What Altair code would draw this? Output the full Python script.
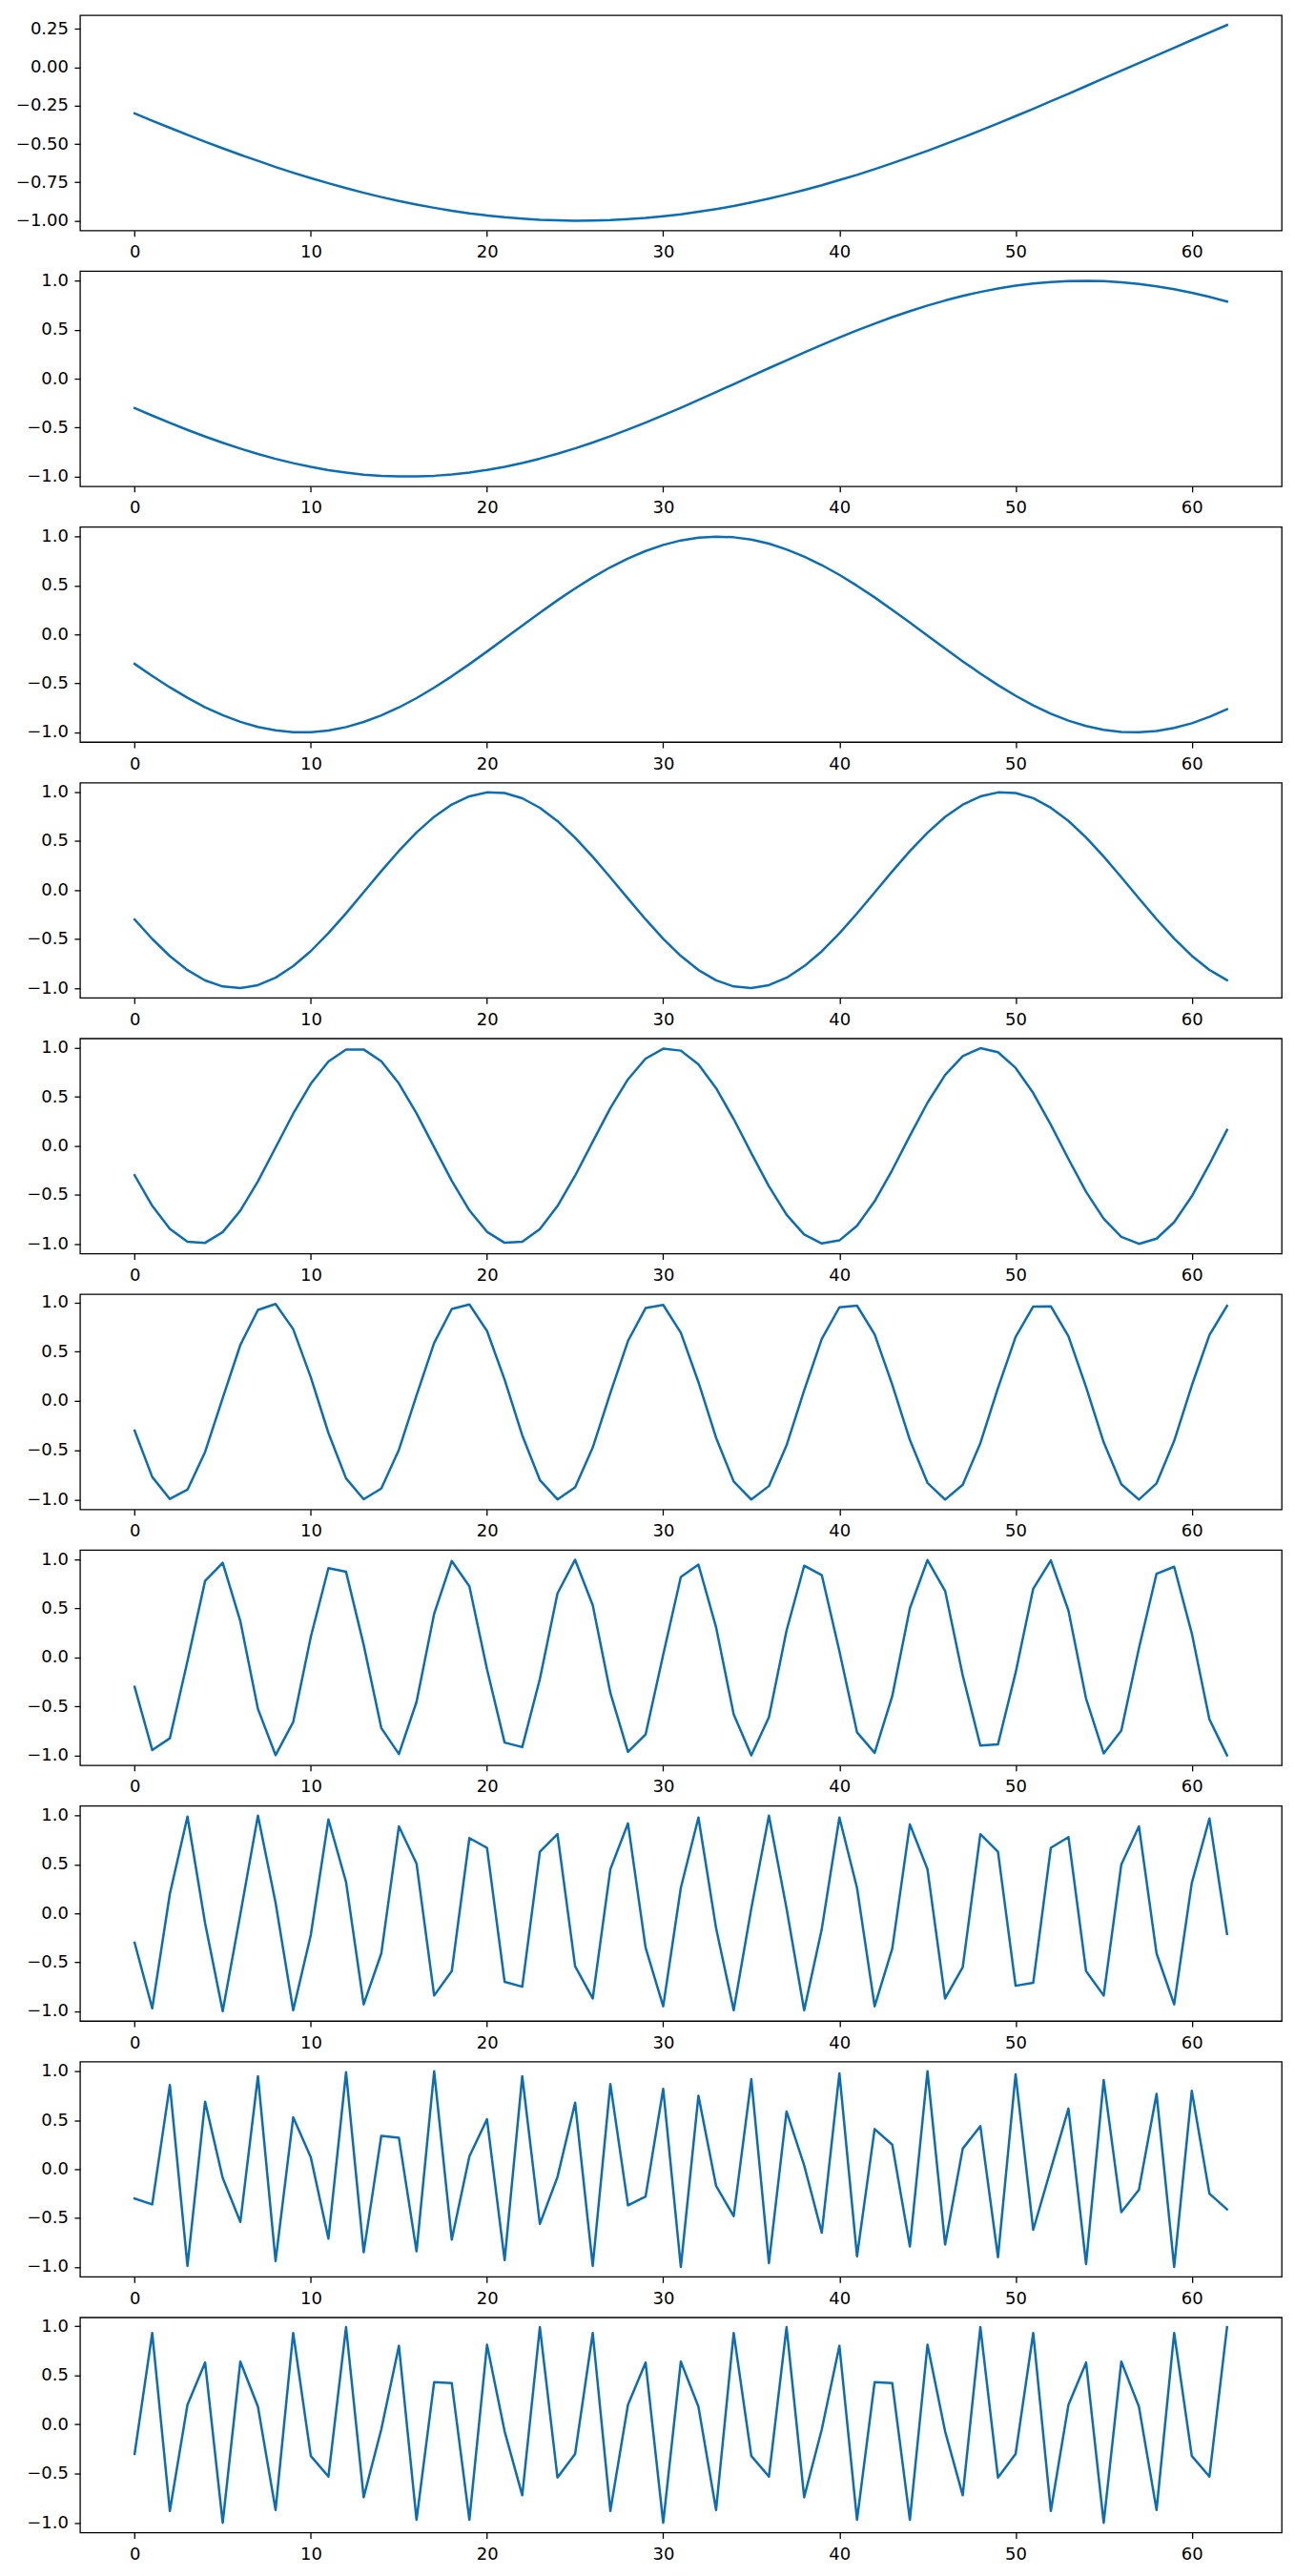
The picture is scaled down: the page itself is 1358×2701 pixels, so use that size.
import altair as alt
import pandas as pd

x_vals = list(range(63))
x_ticks = [0, 10, 20, 30, 40, 50, 60]

s1 = [-0.300, -0.348, -0.394, -0.440, -0.485, -0.528, -0.570, -0.610, -0.650, -0.687,
      -0.722, -0.756, -0.788, -0.818, -0.846, -0.872, -0.895, -0.916, -0.935, -0.952,
      -0.966, -0.978, -0.987, -0.994, -0.998, -1.000, -0.999, -0.996, -0.990, -0.982,
      -0.971, -0.958, -0.942, -0.924, -0.904, -0.881, -0.856, -0.829, -0.800, -0.769,
      -0.735, -0.701, -0.664, -0.625, -0.585, -0.544, -0.501, -0.457, -0.412, -0.365,
      -0.318, -0.270, -0.221, -0.172, -0.122, -0.072, -0.022, 0.028, 0.078, 0.128,
      0.178, 0.227, 0.276]
s2 = [-0.300, -0.377, -0.451, -0.523, -0.591, -0.655, -0.714, -0.769, -0.819, -0.863,
      -0.901, -0.934, -0.960, -0.980, -0.993, -0.999, -0.999, -0.992, -0.979, -0.959,
      -0.932, -0.900, -0.861, -0.817, -0.767, -0.712, -0.652, -0.588, -0.520, -0.448,
      -0.374, -0.297, -0.218, -0.137, -0.056, 0.026, 0.108, 0.188, 0.268, 0.346,
      0.421, 0.494, 0.563, 0.629, 0.690, 0.747, 0.799, 0.846, 0.886, 0.921,
      0.950, 0.972, 0.988, 0.998, 1.000, 0.996, 0.985, 0.968, 0.944, 0.914,
      0.878, 0.836, 0.788]
s3 = [-0.300, -0.424, -0.540, -0.647, -0.743, -0.825, -0.893, -0.945, -0.980, -0.998,
      -0.998, -0.981, -0.946, -0.894, -0.827, -0.745, -0.650, -0.543, -0.427, -0.303,
      -0.174, -0.042, 0.091, 0.223, 0.350, 0.471, 0.584, 0.687, 0.777, 0.853,
      0.915, 0.961, 0.989, 1.000, 0.993, 0.969, 0.928, 0.869, 0.796, 0.709,
      0.609, 0.498, 0.379, 0.252, 0.122, -0.011, -0.144, -0.274, -0.399, -0.517,
      -0.626, -0.724, -0.809, -0.880, -0.935, -0.974, -0.996, -0.999, -0.986, -0.954,
      -0.907, -0.842, -0.763]
s4 = [-0.300, -0.498, -0.673, -0.816, -0.921, -0.983, -0.999, -0.969, -0.893, -0.775,
      -0.622, -0.439, -0.236, -0.021, 0.194, 0.400, 0.588, 0.748, 0.873, 0.957,
      0.997, 0.990, 0.937, 0.840, 0.704, 0.535, 0.340, 0.130, -0.086, -0.298,
      -0.496, -0.671, -0.815, -0.920, -0.983, -0.999, -0.969, -0.894, -0.776, -0.624,
      -0.441, -0.238, -0.023, 0.192, 0.398, 0.586, 0.747, 0.872, 0.956, 0.997,
      0.990, 0.938, 0.841, 0.706, 0.537, 0.342, 0.132, -0.084, -0.296, -0.494,
      -0.670, -0.814, -0.919]
s5 = [-0.300, -0.611, -0.847, -0.978, -0.990, -0.880, -0.661, -0.361, -0.017, 0.329,
      0.635, 0.862, 0.984, 0.985, 0.865, 0.638, 0.333, -0.013, -0.357, -0.658,
      -0.877, -0.989, -0.979, -0.849, -0.614, -0.304, 0.043, 0.386, 0.680, 0.891,
      0.993, 0.973, 0.833, 0.590, 0.275, -0.074, -0.413, -0.702, -0.905, -0.996,
      -0.965, -0.815, -0.565, -0.246, 0.104, 0.441, 0.724, 0.917, 0.998, 0.957,
      0.797, 0.540, 0.216, -0.134, -0.468, -0.744, -0.929, -1.000, -0.947, -0.779,
      -0.514, -0.187, 0.164]
s6 = [-0.300, -0.770, -0.993, -0.899, -0.517, 0.031, 0.568, 0.924, 0.984, 0.729,
      0.241, -0.324, -0.785, -0.996, -0.887, -0.495, 0.056, 0.589, 0.933, 0.979,
      0.711, 0.216, -0.348, -0.801, -0.998, -0.875, -0.472, 0.081, 0.609, 0.942,
      0.974, 0.693, 0.191, -0.372, -0.816, -0.999, -0.862, -0.450, 0.107, 0.629,
      0.950, 0.967, 0.675, 0.166, -0.395, -0.830, -1.000, -0.849, -0.427, 0.132,
      0.649, 0.958, 0.961, 0.656, 0.141, -0.419, -0.844, -1.000, -0.835, -0.404,
      0.157, 0.668, 0.965]
s7 = [-0.300, -0.945, -0.825, -0.037, 0.781, 0.967, 0.370, -0.526, -0.997, -0.660,
      0.211, 0.911, 0.874, 0.129, -0.720, -0.986, -0.454, 0.446, 0.985, 0.727,
      -0.120, -0.869, -0.915, -0.220, 0.653, 0.997, 0.534, -0.361, -0.964, -0.787,
      0.028, 0.821, 0.948, 0.309, -0.580, -1.000, -0.610, 0.274, 0.936, 0.840,
      0.064, -0.764, -0.974, -0.395, 0.503, 0.994, 0.680, -0.184, -0.899, -0.886,
      -0.156, 0.701, 0.990, 0.478, -0.421, -0.979, -0.745, 0.093, 0.855, 0.926,
      0.246, -0.632, -0.999]
s8 = [-0.30, -0.97, 0.20, 0.99, -0.10, -1.00, -0.01, 1.00, 0.11, -0.99,
      -0.22, 0.96, 0.32, -0.93, -0.41, 0.89, 0.51, -0.84, -0.59, 0.77,
      0.67, -0.70, -0.75, 0.63, 0.81, -0.54, -0.87, 0.45, 0.92, -0.35,
      -0.95, 0.26, 0.98, -0.15, -0.99, 0.05, 1.00, 0.05, -0.99, -0.16,
      0.98, 0.26, -0.95, -0.36, 0.91, 0.45, -0.87, -0.55, 0.81, 0.63,
      -0.74, -0.71, 0.67, 0.78, -0.59, -0.84, 0.50, 0.89, -0.41, -0.93,
      0.31, 0.97, -0.21]
s9 = [-0.30, -0.36, 0.86, -0.99, 0.69, -0.09, -0.54, 0.95, -0.94, 0.53,
      0.12, -0.71, 0.99, -0.85, 0.34, 0.32, -0.84, 1.00, -0.72, 0.13,
      0.51, -0.93, 0.95, -0.56, -0.08, 0.68, -0.99, 0.87, -0.37, -0.28,
      0.82, -1.00, 0.75, -0.17, -0.48, 0.92, -0.96, 0.59, 0.04, -0.65,
      0.98, -0.89, 0.41, 0.25, -0.79, 1.00, -0.77, 0.21, 0.44, -0.90,
      0.97, -0.62, 0.00, 0.62, -0.97, 0.91, -0.44, -0.21, 0.77, -1.00,
      0.80, -0.25, -0.41]
s10 = [-0.30, 0.93, -0.88, 0.20, 0.63, -1.00, 0.64, 0.18, -0.87, 0.93,
       -0.32, -0.53, 0.99, -0.74, -0.05, 0.80, -0.97, 0.43, 0.42, -0.97,
       0.81, -0.07, -0.72, 0.99, -0.54, -0.30, 0.93, -0.88, 0.20, 0.63,
       -1.00, 0.64, 0.18, -0.87, 0.93, -0.32, -0.53, 0.99, -0.74, -0.05,
       0.80, -0.97, 0.43, 0.42, -0.97, 0.81, -0.07, -0.72, 0.99, -0.54,
       -0.30, 0.93, -0.88, 0.20, 0.63, -1.00, 0.64, 0.18, -0.87, 0.93,
       -0.32, -0.53, 0.99]

series = [s1, s2, s3, s4, s5, s6, s7, s8, s9, s10]
y_ticks_first = [-1.0, -0.75, -0.5, -0.25, 0.0, 0.25]
y_ticks_rest = [-1.0, -0.5, 0.0, 0.5, 1.0]

LINE = "#0b6db3"
FONT = "DejaVu Sans"

panels = []
for i, s in enumerate(series):
    df = pd.DataFrame({"x": x_vals, "y": s})
    lo, hi = min(s), max(s)
    m = 0.05 * (hi - lo)
    if i == 0:
        ticks, fmt = y_ticks_first, ".2f"
    else:
        ticks, fmt = y_ticks_rest, ".1f"
    ch = alt.Chart(df).mark_line(
        color=LINE, strokeWidth=2.5, strokeJoin="round", strokeCap="square"
    ).encode(
        x=alt.X("x:Q",
                scale=alt.Scale(domain=[-3.1, 65.1], nice=False, zero=False),
                axis=alt.Axis(values=x_ticks, format="d", title=None,
                              labelPadding=8, tickSize=6)),
        y=alt.Y("y:Q",
                scale=alt.Scale(domain=[lo - m, hi + m], nice=False, zero=False),
                axis=alt.Axis(values=ticks, format=fmt, title=None,
                              labelPadding=6.5, tickSize=6,
                              minExtent=70, maxExtent=70)),
    ).properties(width=1262, height=226)
    panels.append(ch)

chart = alt.vconcat(*panels, spacing=42.6, bounds="flush").resolve_scale(
    x="independent", y="independent"
).configure(
    background="white",
    padding=5,
).configure_view(
    stroke="black", strokeWidth=1.3
).configure_axis(
    domain=False, grid=False,
    labelFont=FONT, labelFontSize=18, labelColor="black",
    tickColor="black", tickWidth=1.3,
)

chart.save("out.html", embed_options={"renderer": "svg", "actions": False})
